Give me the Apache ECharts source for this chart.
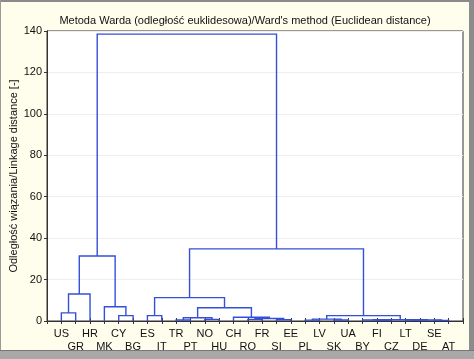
<!DOCTYPE html>
<html>
<head>
<meta charset="utf-8">
<script src="https://cdn.jsdelivr.net/npm/echarts@6/dist/echarts.min.js"></script>
<style>
html,body{margin:0;padding:0;background:#fffdec;}
#c{width:474px;height:359px;}
</style>
</head>
<body>
<div id="c"></div>
<script>
// Leaf order (left to right)
var leaves = ['US','GR','HR','MK','CY','BG','ES','IT','TR','PT','NO','HU','CH','RO','FR','SI','EE','PL','LV','SK','UA','BY','FI','CZ','LT','DE','SE','AT'];
// Merges: [left, right, linkage distance]; 'mN' refers to merge number N
var mergeLeft  = ['PL','SE','FI','LT','TR','SK','SI','m3','BY','RO','NO','m0','m8','m9','m4','CH','CY','ES','m11','US','m14','MK','m19','m17','m22','m23','m24'];
var mergeRight = ['LV','AT','CZ','DE','PT','UA','EE','m1','m2','FR','HU','m5','m7','m6','m10','m13','BG','IT','m12','GR','m15','m16','HR','m20','m21','m18','m25'];
var mergeHeight= [0.4, 0.3, 0.3, 0.4, 0.5, 0.5, 0.6, 0.5, 0.5, 0.8, 0.8, 0.9, 0.6, 1.2, 1.6, 1.8, 2.6, 2.6, 2.6, 3.9, 6.4, 6.9, 13.0, 11.3, 31.4, 34.8, 138.5];
var yTicks = [0,20,40,60,80,100,120,140];

var pos = {}, hgt = {};
leaves.forEach(function(n,i){ pos[n] = i+1; hgt[n] = 0; });
var links = [];
for (var k = 0; k < mergeLeft.length; k++) {
  var a = mergeLeft[k], b = mergeRight[k], h = mergeHeight[k];
  links.push([pos[a], hgt[a], pos[b], hgt[b], h]);
  pos['m'+k] = (pos[a] + pos[b]) / 2;
  hgt['m'+k] = h;
}

var chart = echarts.init(document.getElementById('c'), null, {renderer:'canvas'});
var font = 'Liberation Sans, Arial, sans-serif';
chart.setOption({
  backgroundColor: '#fffdec',
  animation: false,
  title: {
    text: 'Metoda Warda (odległość euklidesowa)/Ward\'s method (Euclidean distance)',
    left: 240, top: 10, textAlign: 'center',
    textStyle: {fontFamily: font, fontSize: 11, fontWeight: 'normal', color: '#111'}
  },
  grid: {left: 47, right: 11, top: 31, bottom: 38, containLabel: false, outerBoundsMode: 'none',
         show: true, backgroundColor: '#ffffff', borderColor: '#333', borderWidth: 1},
  xAxis: [{
    type: 'value', min: 0, max: 29, interval: 1, position: 'bottom',
    axisLine: {show: true, lineStyle: {color: '#333'}},
    axisTick: {show: true, inside: true, length: 3, lineStyle: {color: '#333'}},
    splitLine: {show: false},
    axisLabel: {
      fontFamily: font, fontSize: 11, color: '#111', margin: 6, lineHeight: 13,
      formatter: function(v){
        var i = Math.round(v) - 1;
        if (i < 0 || i >= leaves.length) return '';
        return (i % 2 === 1) ? '\n' + leaves[i] : leaves[i];
      }
    }
  },{
    type: 'value', min: 0, max: 29, interval: 1, position: 'top',
    axisLine: {show: true, lineStyle: {color: '#333'}},
    axisTick: {show: true, inside: true, length: 3, lineStyle: {color: '#333'}},
    axisLabel: {show: false}, splitLine: {show: false}
  }],
  yAxis: [{
    type: 'value', min: 0, max: 140, interval: 20, position: 'left',
    name: 'Odległość wiązania/Linkage distance [-]', nameLocation: 'middle', nameGap: 28,
    nameMoveOverlap: false,
    nameTextStyle: {fontFamily: font, fontSize: 11, color: '#111'},
    axisLine: {show: true, lineStyle: {color: '#333'}},
    axisTick: {show: true, inside: false, length: 3, lineStyle: {color: '#333'}},
    axisLabel: {fontFamily: font, fontSize: 11, color: '#111', margin: 5,
      formatter: function(v){ return yTicks.indexOf(v) >= 0 ? String(v) : ''; }},
    splitLine: {show: true, lineStyle: {color: '#eeeeee', width: 1}}
  },{
    type: 'value', min: 0, max: 140, interval: 20, position: 'right',
    axisLine: {show: true, lineStyle: {color: '#333'}},
    axisTick: {show: true, inside: true, length: 3, lineStyle: {color: '#333'}},
    axisLabel: {show: false}, splitLine: {show: false}
  }],
  series: [{
    type: 'custom',
    xAxisIndex: 0, yAxisIndex: 0,
    encode: {x: [0, 2], y: [1, 3, 4]},
    data: links,
    renderItem: function(params, api){
      var x1 = api.value(0), y1 = api.value(1), x2 = api.value(2), y2 = api.value(3), h = api.value(4);
      var pts = [api.coord([x1, y1]), api.coord([x1, h]), api.coord([x2, h]), api.coord([x2, y2])];
      return {type: 'polyline', shape: {points: pts}, style: {stroke: '#3450d6', lineWidth: 1.4, fill: null}};
    }
  }],
  graphic: [
    {type: 'rect', shape: {x: 0, y: 0, width: 474, height: 2}, style: {fill: '#8a8a8a'}, z: 100},
    {type: 'rect', shape: {x: 0, y: 0, width: 1, height: 359}, style: {fill: '#9a9a9a'}, z: 100},
    {type: 'rect', shape: {x: 469, y: 0, width: 5, height: 359}, style: {fill: '#8c8c8c'}, z: 100},
    {type: 'rect', shape: {x: 0, y: 350, width: 474, height: 9}, style: {fill: '#a8a8a8'}, z: 100},
    {type: 'rect', shape: {x: 0, y: 350, width: 474, height: 1}, style: {fill: '#777'}, z: 101}
  ]
});
</script>
</body>
</html>
